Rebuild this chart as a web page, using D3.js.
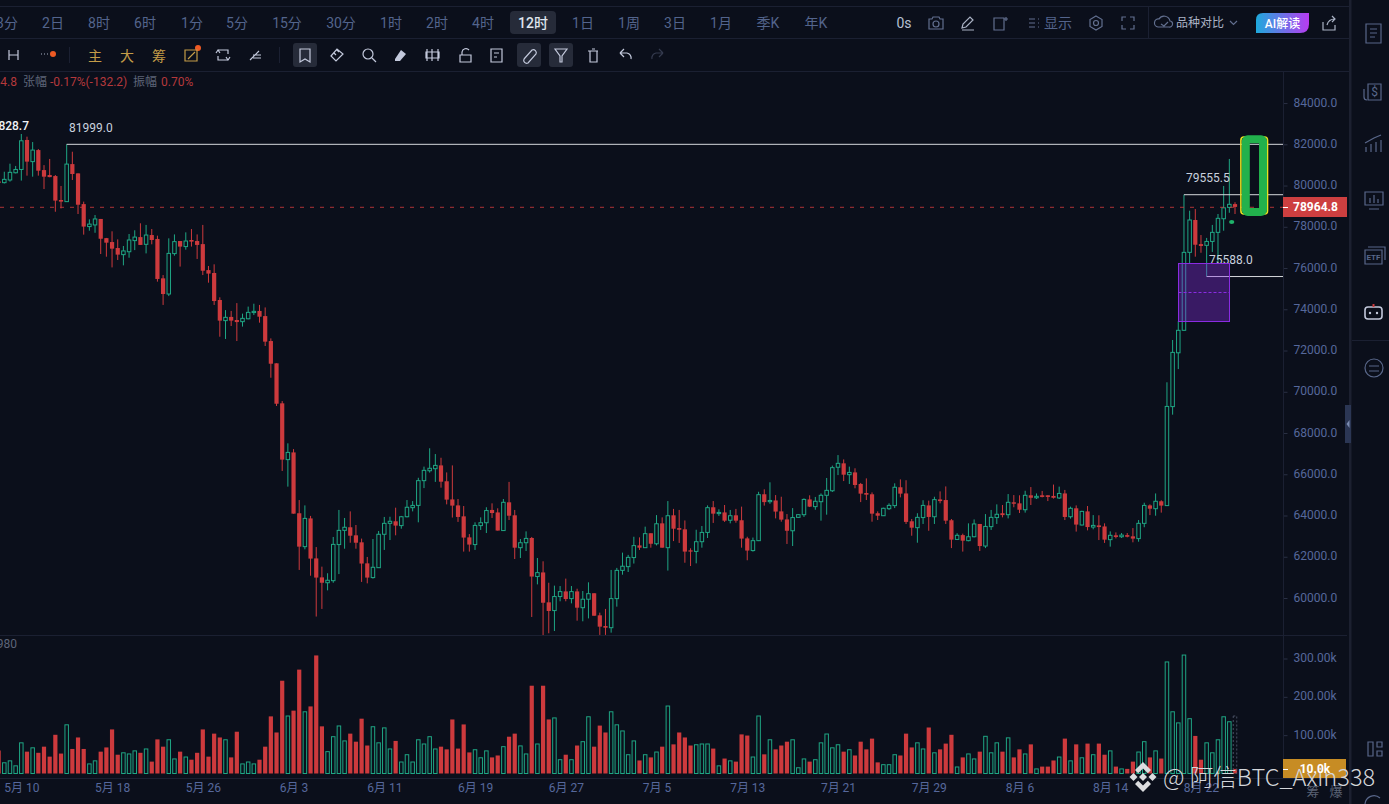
<!DOCTYPE html>
<html>
<head>
<meta charset="utf-8">
<title>BTC 12时</title>
<script src="https://cdn.jsdelivr.net/npm/d3@7"></script>
<style>
html, body { margin:0; padding:0; background:#0b0f1b; overflow:hidden; }
svg { display:block; }
text { font-family: Roboto, "Noto Sans CJK SC", sans-serif; }
</style>
</head>
<body>
<div id="chart"></div>
<script>
// candles, 12h each, the first one is cut by the left edge
var opens = [80200,
	80140,80270,80620,80780,82210,81160,81720,80750,80510,80460,
	79300,79220,81040,80590,79100,78010,78090,78380,77450,77260,
	76970,76650,76790,77330,77500,77150,77600,77410,75500,74740,
	76700,77310,77040,77360,77310,77160,75900,75760,74450,73450,
	73630,73480,73400,73540,73840,73920,73670,72460,71380,69440,
	66710,67060,64110,62490,63860,61920,61000,60740,60840,62590,
	63280,63430,63040,62700,61680,60990,61470,63090,63620,63720,
	63510,63940,64380,64490,65690,66170,66270,66430,65660,64780,
	64490,63960,62940,62590,63510,63650,64270,64150,63270,64640,
	64010,62440,62680,62910,61040,61240,59790,59390,60070,60320,
	59970,60320,59530,59940,60230,59160,58640,58560,59970,61340,
	61520,61960,62550,62440,63140,62630,63620,62440,64010,63390,
	63330,62310,62260,62730,63180,64400,64100,64150,63770,64010,
	63770,62890,62300,62780,65030,64670,64730,64200,63810,63260,
	63910,64040,64780,64430,64670,64980,65200,66340,66530,65980,
	66090,65530,65090,65030,64110,63990,64330,64480,65370,65070,
	63720,63410,63900,64490,63940,64780,64750,63770,62840,63050,
	62780,62970,63590,62520,63460,63900,64110,64040,64640,64590,
	64280,64980,64860,64980,64980,64950,64850,65070,63940,64350,
	63540,64200,63440,63520,63470,62830,63040,62970,63050,62990,
	62880,63620,64490,64330,64690,64480,69280,71890,72980,76760,
	78330,77160,77100,77290,77730,78390,78940,79100];
var highs = [80330,
	80670,81060,80950,82500,82370,82110,81770,80990,81290,80510,
	79980,81999,81640,80590,79220,78360,78570,78380,77460,77780,
	77390,77070,77650,77830,78170,78090,77890,77570,75660,77440,
	77630,77310,77730,77890,77630,78090,76100,76180,74580,73960,
	73920,74300,73790,74130,74270,74210,74090,72590,71380,69550,
	67500,67220,64750,64490,63980,62470,61520,61200,62960,64270,
	63880,64200,63540,62880,61990,62860,63250,63930,63940,64380,
	63980,64750,64700,65830,66370,67260,66980,66800,66090,66430,
	64800,64460,63100,63670,63910,64400,64590,64350,64800,65630,
	64270,62860,63230,62960,61940,61780,60740,60600,60580,60940,
	60580,60450,60340,60760,60230,59290,59470,61360,61460,62200,
	62090,62970,62940,63460,63140,64020,63910,64700,64320,64270,
	63760,62410,63310,63490,64490,64700,64300,64510,64270,64320,
	64430,62970,62930,65150,65270,65610,64990,64910,64070,64360,
	64070,64830,64980,64900,65070,65820,66420,66930,66720,66370,
	66290,65580,65800,65120,64200,64380,64590,65560,65750,65710,
	63830,64110,64740,64720,64910,65170,65410,63830,63140,63120,
	63620,63810,63590,64070,64270,64540,64510,65040,64990,64980,
	65200,65380,65070,65190,64980,65500,65400,65240,64430,64490,
	64230,64460,64020,64010,63620,63230,63180,63150,63150,63390,
	63780,64620,64540,65070,64740,70460,72510,73430,79555.5,78780,
	78860,77600,77460,78090,78620,79980,81290,79190];
var lows = [80060,
	80100,80190,80590,80240,80480,80430,80480,79830,80400,78730,
	78890,79220,80270,78620,77620,77810,77710,76680,76550,76030,
	76390,76130,76500,76870,77120,76710,77150,75340,74210,74640,
	76600,76070,76890,77040,76440,75660,75290,74210,72670,72560,
	73190,72460,73160,73510,73720,73350,72220,70680,69310,66160,
	65400,64090,61360,62360,61080,59100,59470,60370,60740,61160,
	62390,62680,62390,60780,60710,60940,61470,62330,62810,63040,
	63360,63910,64200,63670,65330,66080,65630,65350,64540,63900,
	63690,62250,62250,62330,63300,63150,63880,63270,63250,63780,
	61890,61940,62280,59080,60660,58200,58290,58400,59840,59840,
	59740,58900,58870,59010,59140,58210,58210,58320,59580,61130,
	61260,61670,62330,62440,62440,62550,62440,61330,62760,62670,
	61710,61550,61680,62440,62910,63640,63980,63690,63620,63650,
	62440,61830,62250,62760,64480,64570,63860,63700,62620,62520,
	63880,63930,64410,64280,63750,64040,65140,65960,65670,65530,
	65320,64650,64750,63700,63780,63980,64270,64360,64880,63590,
	63020,62680,63590,63260,63590,64590,63590,62420,62810,62250,
	62750,62940,62280,62420,63300,63590,63910,63860,64400,64120,
	64140,64510,64800,64880,64700,64820,64800,63780,63850,63220,
	63520,63280,63330,62810,62670,62490,62890,62910,62940,62700,
	62730,63430,64020,63990,64140,64470,68890,71100,72950,76240,
	76550,76740,75588,76780,76240,77810,78680,78620];
var closes = [80130,
	80300,80640,80780,82170,81160,81720,80720,80430,80410,79270,
	79220,81040,80560,79070,78010,78130,78380,77420,77230,76940,
	76650,76830,77360,77500,77120,77600,77360,75470,74740,76710,
	77280,77040,77310,77280,77120,75870,75730,74400,73450,73610,
	73450,73380,73560,73850,73900,73640,72430,71360,69420,66710,
	67060,64090,62490,63860,61910,60990,60740,60860,62600,63280,
	63430,63020,62680,61670,60990,61490,63090,63620,63720,63510,
	63940,64400,64490,65690,66190,66290,66430,65640,64770,64480,
	63930,62930,62590,63520,63650,64240,64120,63270,64640,63990,
	62440,62680,62890,61040,61230,59770,59370,60070,60310,59950,
	60310,59530,59940,60210,59140,58610,58560,59970,61340,61540,
	61970,62540,62440,63120,62630,63600,62440,63990,63360,63310,
	62250,62250,62730,63180,64380,64090,64150,63750,63990,63750,
	62880,62300,62780,65010,64650,64730,64190,63800,63260,63900,
	64040,64780,64430,64690,64980,65220,66320,66530,65980,66090,
	65480,65060,65010,64090,63990,64350,64490,65370,65060,63690,
	63410,63910,64490,63930,64770,64700,63750,62830,63040,62780,
	62970,63590,62520,63470,63910,64060,64020,64640,64570,64280,
	64980,64860,64930,64900,64900,64860,65070,63930,64350,63560,
	64200,63440,63520,63440,62830,63040,62960,63050,62970,62880,
	63620,64490,64330,64690,64480,69290,71910,72980,76760,78330,
	77130,77070,77290,77730,78410,78920,79090,78964.8];
// volume in k
var volumes = [60,
	28,33,20,80,57,67,54,70,44,101,
	52,127,64,94,64,25,33,57,68,115,
	49,54,51,59,54,64,31,89,70,88,
	38,57,43,36,54,115,44,104,94,88,
	42,109,25,30,25,36,70,149,107,242,
	150,164,271,161,175,308,123,57,96,124,
	85,104,83,143,73,122,80,119,64,85,
	30,49,30,88,77,96,64,70,63,141,
	65,128,55,62,41,59,42,47,70,96,
	104,72,51,229,77,229,141,145,36,49,
	36,73,83,148,70,125,107,161,127,111,
	49,85,34,49,42,56,70,176,76,107,
	94,73,75,77,77,65,20,39,33,31,
	102,99,43,150,50,88,63,73,83,88,
	15,38,31,36,80,103,67,75,57,62,
	47,83,63,91,29,23,23,49,47,104,
	68,80,64,120,54,63,78,101,17,42,
	51,38,57,97,54,80,57,93,42,63,
	51,76,12,18,18,34,43,91,33,76,
	41,78,49,78,49,59,18,12,12,31,
	56,83,42,59,39,291,161,132,309,143,
	98,36,80,54,88,148,135,12];

var priceTicks = [84000,82000,80000,78000,76000,74000,72000,70000,68000,66000,64000,62000,60000];
var volumeTicks = [100,200,300];
var dateLabels = ['5月 10','5月 18','5月 26','6月 3','6月 11','6月 19','6月 27','7月 5','7月 13','7月 21','7月 29','8月 6','8月 14','8月 22'];
var lastPrice = 78964.8, ghostVolume = 150, lastVolumeLabel = '10.0k';
var highLevel = 81999, midLevel = 79555.5, lowLevel = 75588;

var periods = ['3分','2日','8时','6时','1分','5分','15分','30分','1时','2时','4时','12时','1日','1周','3日','1月','季K','年K'];
var periodX = [7,53,99,145,192,237,287,341,391,437,483,533,583,629,675,721,768,816];

var BG = '#0b0f1b', UP = '#1fa684', DOWN = '#cd3a3d', GRID = '#1b2032', AXIS = '#56689b';
var svg = d3.select('#chart').append('svg').attr('width', 1389).attr('height', 804);

var x = d3.scaleLinear().domain([0, opens.length - 1]).range([-1.37, 1235]);
var y = d3.scaleLinear().domain([82000, 60000]).range([144.3, 598]);
var v = d3.scaleLinear().domain([0, 300]).range([773.5, 658.5]);
var isUp = function(i) { return closes[i] >= opens[i]; };
var idx = d3.range(opens.length);

svg.append('rect').attr('width', 1389).attr('height', 804).attr('fill', BG);

// pane separators
function hline(y0, x0, x1, color) {
	svg.append('line').attr('x1', x0).attr('x2', x1).attr('y1', y0).attr('y2', y0).attr('stroke', color).attr('stroke-width', 1);
}
hline(6.5, 0, 1350, GRID);
hline(38.5, 0, 1350, GRID);
hline(71.5, 0, 1350, GRID);
hline(635.5, 0, 1347, GRID);
hline(778.5, 0, 1347, GRID);
svg.append('rect').attr('x', 1349).attr('y', 0).attr('width', 2.5).attr('height', 804).attr('fill', '#1c2030');
svg.append('rect').attr('x', 1345).attr('y', 405).attr('width', 6).attr('height', 38).attr('fill', '#2b3654');
svg.append('path').attr('d', 'M1349.5 420 l-3 4 l3 4 z').attr('fill', '#7c8bb0');
svg.append('line').attr('x1', 1148.5).attr('x2', 1148.5).attr('y1', 7).attr('y2', 38).attr('stroke', GRID);

// axes
var axisPrice = d3.axisRight(y).tickValues(priceTicks).tickSize(4).tickPadding(6)
	.tickFormat(function(d) { return d.toFixed(1); });
var gPrice = svg.append('g').attr('transform', 'translate(1283.5,0)').call(axisPrice);
var axisVol = d3.axisRight(v).tickValues(volumeTicks).tickSize(4).tickPadding(6)
	.tickFormat(function(d) { return d.toFixed(2) + 'k'; });
var gVol = svg.append('g').attr('transform', 'translate(1283.5,0)').call(axisVol);
[gPrice, gVol].forEach(function(g) {
	g.select('.domain').remove();
	g.selectAll('line').attr('stroke', '#2a3044');
	g.selectAll('text').attr('fill', AXIS).attr('dy', '0.26em').style('font-size', '12px');
});
svg.append('line').attr('x1', 1283.5).attr('x2', 1283.5).attr('y1', 72).attr('y2', 778).attr('stroke', GRID);

var dateIdx = dateLabels.map(function(d, k) { return 4 + 16 * k; });
var axisDate = d3.axisBottom(x).tickValues(dateIdx).tickSize(0).tickPadding(5)
	.tickFormat(function(d, k) { return dateLabels[k]; });
var gDate = svg.append('g').attr('transform', 'translate(0,778)').call(axisDate);
gDate.select('.domain').remove();
gDate.selectAll('text').attr('fill', AXIS).style('font-size', '12px');

// candles
var clip = svg.append('clipPath').attr('id', 'pane').append('rect').attr('x', 0).attr('y', 72).attr('width', 1283).attr('height', 563);
var plot = svg.append('g').attr('clip-path', 'url(#pane)');

plot.selectAll('.wick').data(idx).enter().append('line')
	.attr('class', 'wick')
	.attr('x1', function(i) { return x(i); })
	.attr('x2', function(i) { return x(i); })
	.attr('y1', function(i) { return y(highs[i]); })
	.attr('y2', function(i) { return y(lows[i]); })
	.attr('stroke', function(i) { return isUp(i) ? UP : DOWN; })
	.attr('stroke-width', 1);

plot.selectAll('.body').data(idx).enter().append('rect')
	.attr('class', 'body')
	.attr('x', function(i) { return x(i) - (isUp(i) ? 1.75 : 2.1); })
	.attr('width', function(i) { return isUp(i) ? 3.5 : 4.2; })
	.attr('y', function(i) { return y(Math.max(opens[i], closes[i])); })
	.attr('height', function(i) { return Math.max(1.2, Math.abs(y(opens[i]) - y(closes[i]))); })
	.attr('fill', function(i) { return isUp(i) ? BG : DOWN; })
	.attr('stroke', function(i) { return isUp(i) ? UP : 'none'; })
	.attr('stroke-width', 1);

// volume
svg.selectAll('.vol').data(idx).enter().append('rect')
	.attr('class', 'vol')
	.attr('x', function(i) { return x(i) - (isUp(i) ? 1.75 : 2.1); })
	.attr('width', function(i) { return isUp(i) ? 3.5 : 4.2; })
	.attr('y', function(i) { return v(volumes[i]); })
	.attr('height', function(i) { return v(0) - v(volumes[i]); })
	.attr('fill', function(i) { return isUp(i) ? BG : DOWN; })
	.attr('stroke', function(i) { return isUp(i) ? UP : 'none'; })
	.attr('stroke-width', 1);
svg.append('rect')
	.attr('x', x(opens.length - 1) - 1.75).attr('width', 3.5)
	.attr('y', v(ghostVolume)).attr('height', v(0) - v(ghostVolume))
	.attr('fill', 'none').attr('stroke', '#4a5064').attr('stroke-width', 1).attr('stroke-dasharray', '2,2');

// level lines
function level(val, i0) {
	svg.append('line').attr('x1', i0).attr('x2', 1283).attr('y1', y(val)).attr('y2', y(val))
		.attr('stroke', '#d6d8dc').attr('stroke-width', 1);
}
level(highLevel, x(12));
level(midLevel, x(209));
level(lowLevel, x(213));
svg.append('line').attr('x1', 0).attr('x2', 1283).attr('y1', y(lastPrice) + 0.4).attr('y2', y(lastPrice) + 0.4)
	.attr('stroke', '#cd3a3d').attr('stroke-width', 1).attr('stroke-dasharray', '4,6').attr('opacity', 0.85);

function label(txt, px, py, color, size, anchor, weight) {
	return svg.append('text').attr('x', px).attr('y', py).attr('fill', color)
		.attr('text-anchor', anchor || 'start').attr('dominant-baseline', 'central')
		.style('font-size', (size || 12) + 'px').style('font-weight', weight || 400).text(txt);
}
label('81999.0', 69, 127.5, '#c9d1df');
label('81828.7', 29, 125.5, '#f1f3f6', 12, 'end', 500);
label('79555.5', 1186, 177.5, '#c9d1df');
label('75588.0', 1209, 259.5, '#c9d1df');
label('980', 17, 643.5, '#5d6478', 12, 'end');

// drawn box
svg.append('rect').attr('x', 1178.5).attr('y', 263.5).attr('width', 51).attr('height', 58)
	.attr('fill', '#8b2ee6').attr('fill-opacity', 0.36).attr('stroke', '#8a2be2').attr('stroke-width', 1);
svg.append('line').attr('x1', 1178.5).attr('x2', 1229.5).attr('y1', 292.5).attr('y2', 292.5)
	.attr('stroke', '#8a2be2').attr('stroke-dasharray', '3,2');
svg.append('ellipse').attr('cx', 1231.7).attr('cy', 222).attr('rx', 2.6).attr('ry', 2).attr('fill', '#1fb36a');

// green marker
svg.append('rect').attr('x', 1240.9).attr('y', 137).attr('width', 26.6).attr('height', 77).attr('rx', 3)
	.attr('fill', 'none').attr('stroke', '#e8e020').attr('stroke-width', 1.6);
svg.append('rect').attr('x', 1245.8).attr('y', 139.3).attr('width', 17.2).attr('height', 72.8).attr('rx', 2)
	.attr('fill', 'none').attr('stroke', '#22b14c').attr('stroke-width', 8);

// last price tags
svg.append('rect').attr('x', 1283).attr('y', 197).attr('width', 64).attr('height', 20).attr('fill', '#cd3f40');
svg.append('line').attr('x1', 1283).attr('x2', 1288).attr('y1', 207.5).attr('y2', 207.5).attr('stroke', '#fff');
label(lastPrice.toFixed(1), 1315.5, 207, '#fff', 12, 'middle', 700);
svg.append('rect').attr('x', 1283).attr('y', 759).attr('width', 63).attr('height', 19).attr('fill', '#c78c24');
svg.append('line').attr('x1', 1283).attr('x2', 1288).attr('y1', 769.5).attr('y2', 769.5).attr('stroke', '#fff');
label(lastVolumeLabel, 1315, 769, '#fff', 12, 'middle', 700);
label('筹', 1313, 791, '#5a6274', 13, 'middle');
label('爆', 1336, 791, '#5a6274', 13, 'middle');

// top bar
svg.append('rect').attr('x', 510).attr('y', 11).attr('width', 46).attr('height', 23).attr('rx', 4).attr('fill', '#262b39');
periods.forEach(function(p, k) {
	var active = p === '12时';
	label(p, periodX[k], 23, active ? '#dfe4ee' : '#53648c', 14, 'middle', active ? 500 : 400);
});
label('0s', 904, 23, '#b7c0d4', 14, 'middle');
label('显示', 1058, 23, '#53648c', 14, 'middle');
label('品种对比', 1200, 23, '#aab2c4', 12, 'middle');
var grad = svg.append('defs').append('linearGradient').attr('id', 'ai');
grad.append('stop').attr('offset', '0%').attr('stop-color', '#1ea9dc');
grad.append('stop').attr('offset', '100%').attr('stop-color', '#b83cf2');
svg.append('path').attr('d', 'M1263 13 H1309 V24 Q1309 33 1300 33 H1256 V20 Q1256 13 1263 13 Z').attr('fill', 'url(#ai)');
label('AI解读', 1282.5, 23.5, '#fff', 12, 'middle', 500);

// second row, info line
[['主',95],['大',127],['筹',159]].forEach(function(d) { label(d[0], d[1], 55.5, '#c39c48', 14, 'middle'); });
[[293,43],[517,43],[549,43]].forEach(function(d) {
	svg.append('rect').attr('x', d[0]).attr('y', d[1]).attr('width', 24).attr('height', 24).attr('rx', 3).attr('fill', '#262b39');
});
svg.append('line').attr('x1', 69.5).attr('x2', 69.5).attr('y1', 47).attr('y2', 63).attr('stroke', GRID);
svg.append('line').attr('x1', 279.5).attr('x2', 279.5).attr('y1', 47).attr('y2', 63).attr('stroke', GRID);
svg.append('circle').attr('cx', 53).attr('cy', 54).attr('r', 3).attr('fill', '#ee5a24');
svg.append('circle').attr('cx', 198).attr('cy', 48).attr('r', 3).attr('fill', '#ee5a24');
svg.append('path').attr('d', 'M41 54h1 M44 54h1 M47 54h1').attr('stroke', '#aab2c4');

function icon(d, color) {
	svg.append('path').attr('d', d).attr('fill', 'none').attr('stroke', color).attr('stroke-width', 1.2);
}
var ICON = '#c3c9dc', SIDE = '#59678a', TOP = '#626f8f';
icon('M9 50v10 M9 55h9 M18 50v10', ICON);
icon('M185 50h12v11h-12z M188 59l7-7', '#c39c48');
icon('M218 50h10v4 M228 60h-10v-4 M216 53l2-3 2 3 M230 57l-2 3-2-3', ICON);
icon('M250 60l9-9 M253 58h8 M253 55h8', ICON);
icon('M300 49h10v13l-5-3-5 3z', ICON);
icon('M331 56l6-7 6 5-7 7z M334 53l2 2 M337 50l2 2', ICON);
icon('M363 54a5 5 0 1 0 10 0a5 5 0 1 0-10 0 M372 58l4 4', ICON);
svg.append('path').attr('d', 'M395 59l6-9 5 4-6 7h-5z').attr('fill', ICON);
icon('M427 49v12 M432 49v12 M438 49v12 M426 52h13v6h-13z', ICON);
icon('M460 55h11v7h-11z M462 55v-3a4 4 0 0 1 7-2', ICON);
icon('M491 49h11v13h-11z M494 53h5 M494 57h3', ICON);
icon('M524 59l8-9a3 3 0 0 1 4 4l-8 9a3 3 0 0 1-4-4', ICON);
icon('M555 49h12l-5 7v6h-2v-6z', ICON);
icon('M588 51h10 M590 51v11h7v-11 M592 49h3', ICON);
icon('M620 53l4-4 M620 53l4 4 M620 53h7a5 5 0 0 1 4 6', ICON);
icon('M663 53l-4-4 M663 53l-4 4 M663 53h-7a5 5 0 0 0-4 6', '#343a4e');

// top-right tools
icon('M929 19h3l1-2h6l1 2h3v10h-14z M933 24a3 3 0 1 0 6 0a3 3 0 1 0-6 0', TOP);
icon('M962 28l1-4 7-7 3 3-7 7z M962 30h12', '#aab2c4');
icon('M994 18h10v12h-10z M1006 17v4 M1004 19h4', TOP);
icon('M1029 19h6 M1029 23h6 M1029 27h6 M1038 19h1 M1038 23h1 M1038 27h1', TOP);
icon('M1096 16l6 3.5v7l-6 3.5-6-3.5v-7z M1093.5 23a2.5 2.5 0 1 0 5 0a2.5 2.5 0 1 0-5 0', TOP);
icon('M1122 21v-4h4 M1130 17h4v4 M1134 25v4h-4 M1126 29h-4v-4', TOP);
icon('M1158 27a4 4 0 0 1 1-8a6 6 0 0 1 11 2a3 3 0 0 1-1 6z M1161 24l3 2 4-4', TOP);
icon('M1230 21l3.5 3.5 3.5-3.5', TOP);
icon('M1323 22v8h12v-5 M1327 25c1-4 4-6 8-6 M1332 16l3 3-3 3', '#aab2c4');

// side icons
icon('M1366 24h15v19h-15z M1370 29h7 M1370 33h7 M1370 37h5', SIDE);
icon('M1368 84h13v16h-13z M1364 89v8 a3 3 0 0 0 3 3', SIDE);
label('$', 1374.5, 92, SIDE, 12, 'middle');
icon('M1366 152v-5 M1371 152v-8 M1376 152v-10 M1381 152v-12 M1365 143l9-5 7-3', SIDE);
icon('M1365 192h18v13h-18z M1369 209h10 M1370 203v-5 M1374 203v-8 M1378 203v-4', SIDE);
icon('M1365 250h17v14h-17z M1368 247h17v13', SIDE);
label('ETF', 1373.5, 257.5, SIDE, 8, 'middle', 700);
svg.append('rect').attr('x', 1365).attr('y', 307).attr('width', 17).attr('height', 12).attr('rx', 3).attr('fill', 'none').attr('stroke', '#c3c9dc').attr('stroke-width', 1.6);
svg.append('circle').attr('cx', 1370).attr('cy', 313).attr('r', 1.2).attr('fill', '#c3c9dc');
svg.append('circle').attr('cx', 1377).attr('cy', 313).attr('r', 1.2).attr('fill', '#c3c9dc');
svg.append('line').attr('x1', 1373.5).attr('x2', 1373.5).attr('y1', 304).attr('y2', 307).attr('stroke', '#cd3a3d').attr('stroke-width', 2);
hline(340.5, 1352, 1389, GRID);
icon('M1365 368a9 9 0 1 0 18 0a9 9 0 1 0-18 0 M1369 366h10 M1369 371h10', SIDE);
icon('M1368 742h5v14h-5z M1377 742h5v5h-5z M1377 751h5v5h-5z', SIDE);
icon('M1365 804a9 9 0 0 1 15-6', SIDE);

// info line
label('78964.8', 17, 82, '#b5393c', 12, 'end');
label('张幅', 23, 82, '#5d6478');
label('-0.17%(-132.2)', 50, 82, '#b5393c');
label('振幅', 133, 82, '#5d6478');
label('0.70%', 161, 82, '#b5393c');

// watermark
var wm = svg.append('g').attr('fill', '#dcdde0');
wm.append('path').attr('d', 'M1143 762 l8 8 -3.2 3.2 -4.8 -4.8 -4.8 4.8 -3.2 -3.2 z');
wm.append('path').attr('d', 'M1143 792 l8 -8 -3.2 -3.2 -4.8 4.8 -4.8 -4.8 -3.2 3.2 z');
wm.append('path').attr('d', 'M1143 773 l4 4 -4 4 -4 -4 z');
wm.append('path').attr('d', 'M1133.5 773 l4 4 -4 4 -4 -4 z');
wm.append('path').attr('d', 'M1152.5 773 l4 4 -4 4 -4 -4 z');
svg.append('text').attr('x', 1163).attr('y', 786).attr('fill', '#d4d6da')
	.style('font-size', '23.6px').style('font-weight', 300).style('font-family', '"Noto Sans CJK SC", "Noto Sans", sans-serif')
	.text('@ 阿信BTC_Axin338');
</script>
</body>
</html>
